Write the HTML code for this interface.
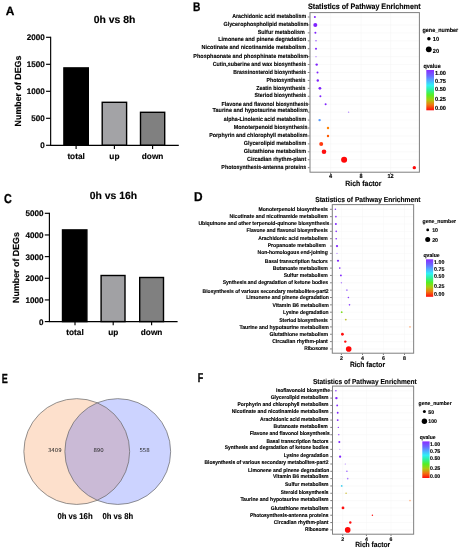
<!DOCTYPE html>
<html lang="en"><head><meta charset="utf-8"><title>DEG figure</title>
<style>
html,body{margin:0;padding:0;background:#fff;}
svg{display:block;font-family:"Liberation Sans",sans-serif;text-rendering:geometricPrecision;}
</style></head><body>
<svg width="460" height="550" viewBox="0 0 460 550">
<defs>
<linearGradient id="rb" x1="0" y1="0" x2="0" y2="1">
<stop offset="0" stop-color="#8a2cff"/>
<stop offset="0.14" stop-color="#6c66ff"/>
<stop offset="0.27" stop-color="#4fb0ff"/>
<stop offset="0.38" stop-color="#2ff0f6"/>
<stop offset="0.50" stop-color="#2ff09a"/>
<stop offset="0.62" stop-color="#55ee22"/>
<stop offset="0.74" stop-color="#aacc10"/>
<stop offset="0.86" stop-color="#ee7a10"/>
<stop offset="1" stop-color="#ff0d0d"/>
</linearGradient>
</defs>
<rect width="460" height="550" fill="#fff"/>
<rect x="63.90" y="67.90" width="24.40" height="77.40" fill="#000" stroke="#000" stroke-width="1.4"/>
<rect x="102.20" y="102.30" width="24.40" height="43.00" fill="#a3a3a6" stroke="#000" stroke-width="1.4"/>
<rect x="140.50" y="112.30" width="24.20" height="33.00" fill="#808080" stroke="#000" stroke-width="1.4"/>
<line x1="50.65" y1="36.80" x2="50.65" y2="145.80" stroke="#000" stroke-width="1.15"/>
<line x1="50.15" y1="145.30" x2="178.80" y2="145.30" stroke="#000" stroke-width="1.15"/>
<line x1="46.05" y1="145.30" x2="50.65" y2="145.30" stroke="#000" stroke-width="1.15"/>
<text x="44.65" y="148.20" font-size="8.1" font-weight="bold" text-anchor="end" fill="#000" stroke="#000" stroke-width="0.15">0</text>
<line x1="46.05" y1="118.30" x2="50.65" y2="118.30" stroke="#000" stroke-width="1.15"/>
<text x="44.65" y="121.20" font-size="8.1" font-weight="bold" text-anchor="end" fill="#000" stroke="#000" stroke-width="0.15">500</text>
<line x1="46.05" y1="91.30" x2="50.65" y2="91.30" stroke="#000" stroke-width="1.15"/>
<text x="44.65" y="94.20" font-size="8.1" font-weight="bold" text-anchor="end" fill="#000" stroke="#000" stroke-width="0.15">1000</text>
<line x1="46.05" y1="64.30" x2="50.65" y2="64.30" stroke="#000" stroke-width="1.15"/>
<text x="44.65" y="67.20" font-size="8.1" font-weight="bold" text-anchor="end" fill="#000" stroke="#000" stroke-width="0.15">1500</text>
<line x1="46.05" y1="37.30" x2="50.65" y2="37.30" stroke="#000" stroke-width="1.15"/>
<text x="44.65" y="40.20" font-size="8.1" font-weight="bold" text-anchor="end" fill="#000" stroke="#000" stroke-width="0.15">2000</text>
<line x1="76.10" y1="145.30" x2="76.10" y2="148.90" stroke="#000" stroke-width="1.15"/>
<text x="76.10" y="158.60" font-size="8.25" font-weight="bold" text-anchor="middle" fill="#000" stroke="#000" stroke-width="0.15">total</text>
<line x1="114.40" y1="145.30" x2="114.40" y2="148.90" stroke="#000" stroke-width="1.15"/>
<text x="114.40" y="158.60" font-size="8.25" font-weight="bold" text-anchor="middle" fill="#000" stroke="#000" stroke-width="0.15">up</text>
<line x1="152.60" y1="145.30" x2="152.60" y2="148.90" stroke="#000" stroke-width="1.15"/>
<text x="152.60" y="158.60" font-size="8.25" font-weight="bold" text-anchor="middle" fill="#000" stroke="#000" stroke-width="0.15">down</text>
<text x="114.60" y="22.60" font-size="10.4" font-weight="bold" text-anchor="middle" fill="#000" stroke="#000" stroke-width="0.15">0h vs 8h</text>
<text transform="translate(21.00,91.00) rotate(-90)" font-size="8.85" font-weight="bold" text-anchor="middle" stroke="#000" stroke-width="0.15">Number of DEGs</text>
<rect x="62.50" y="229.90" width="24.40" height="91.70" fill="#000" stroke="#000" stroke-width="1.4"/>
<rect x="101.10" y="275.50" width="23.90" height="46.10" fill="#a1a1a4" stroke="#000" stroke-width="1.4"/>
<rect x="139.70" y="277.50" width="23.80" height="44.10" fill="#808080" stroke="#000" stroke-width="1.4"/>
<line x1="49.40" y1="212.80" x2="49.40" y2="322.10" stroke="#000" stroke-width="1.15"/>
<line x1="48.90" y1="321.60" x2="177.60" y2="321.60" stroke="#000" stroke-width="1.15"/>
<line x1="44.80" y1="321.60" x2="49.40" y2="321.60" stroke="#000" stroke-width="1.15"/>
<text x="43.40" y="324.50" font-size="8.1" font-weight="bold" text-anchor="end" fill="#000" stroke="#000" stroke-width="0.15">0</text>
<line x1="44.80" y1="299.94" x2="49.40" y2="299.94" stroke="#000" stroke-width="1.15"/>
<text x="43.40" y="302.84" font-size="8.1" font-weight="bold" text-anchor="end" fill="#000" stroke="#000" stroke-width="0.15">1000</text>
<line x1="44.80" y1="278.28" x2="49.40" y2="278.28" stroke="#000" stroke-width="1.15"/>
<text x="43.40" y="281.18" font-size="8.1" font-weight="bold" text-anchor="end" fill="#000" stroke="#000" stroke-width="0.15">2000</text>
<line x1="44.80" y1="256.62" x2="49.40" y2="256.62" stroke="#000" stroke-width="1.15"/>
<text x="43.40" y="259.52" font-size="8.1" font-weight="bold" text-anchor="end" fill="#000" stroke="#000" stroke-width="0.15">3000</text>
<line x1="44.80" y1="234.96" x2="49.40" y2="234.96" stroke="#000" stroke-width="1.15"/>
<text x="43.40" y="237.86" font-size="8.1" font-weight="bold" text-anchor="end" fill="#000" stroke="#000" stroke-width="0.15">4000</text>
<line x1="44.80" y1="213.30" x2="49.40" y2="213.30" stroke="#000" stroke-width="1.15"/>
<text x="43.40" y="216.20" font-size="8.1" font-weight="bold" text-anchor="end" fill="#000" stroke="#000" stroke-width="0.15">5000</text>
<line x1="75.00" y1="321.60" x2="75.00" y2="325.20" stroke="#000" stroke-width="1.15"/>
<text x="75.00" y="334.60" font-size="8.25" font-weight="bold" text-anchor="middle" fill="#000" stroke="#000" stroke-width="0.15">total</text>
<line x1="113.20" y1="321.60" x2="113.20" y2="325.20" stroke="#000" stroke-width="1.15"/>
<text x="113.20" y="334.60" font-size="8.25" font-weight="bold" text-anchor="middle" fill="#000" stroke="#000" stroke-width="0.15">up</text>
<line x1="151.60" y1="321.60" x2="151.60" y2="325.20" stroke="#000" stroke-width="1.15"/>
<text x="151.60" y="334.60" font-size="8.25" font-weight="bold" text-anchor="middle" fill="#000" stroke="#000" stroke-width="0.15">down</text>
<text x="113.50" y="199.20" font-size="10.4" font-weight="bold" text-anchor="middle" fill="#000" stroke="#000" stroke-width="0.15">0h vs 16h</text>
<text transform="translate(19.40,267.50) rotate(-90)" font-size="8.85" font-weight="bold" text-anchor="middle" stroke="#000" stroke-width="0.15">Number of DEGs</text>
<line x1="310.00" y1="17.00" x2="419.40" y2="17.00" stroke="#f5f5f5" stroke-width="0.5"/>
<line x1="310.00" y1="24.93" x2="419.40" y2="24.93" stroke="#f5f5f5" stroke-width="0.5"/>
<line x1="310.00" y1="32.86" x2="419.40" y2="32.86" stroke="#f5f5f5" stroke-width="0.5"/>
<line x1="310.00" y1="40.79" x2="419.40" y2="40.79" stroke="#f5f5f5" stroke-width="0.5"/>
<line x1="310.00" y1="48.72" x2="419.40" y2="48.72" stroke="#f5f5f5" stroke-width="0.5"/>
<line x1="310.00" y1="56.65" x2="419.40" y2="56.65" stroke="#f5f5f5" stroke-width="0.5"/>
<line x1="310.00" y1="64.58" x2="419.40" y2="64.58" stroke="#f5f5f5" stroke-width="0.5"/>
<line x1="310.00" y1="72.51" x2="419.40" y2="72.51" stroke="#f5f5f5" stroke-width="0.5"/>
<line x1="310.00" y1="80.44" x2="419.40" y2="80.44" stroke="#f5f5f5" stroke-width="0.5"/>
<line x1="310.00" y1="88.37" x2="419.40" y2="88.37" stroke="#f5f5f5" stroke-width="0.5"/>
<line x1="310.00" y1="96.30" x2="419.40" y2="96.30" stroke="#f5f5f5" stroke-width="0.5"/>
<line x1="310.00" y1="104.23" x2="419.40" y2="104.23" stroke="#f5f5f5" stroke-width="0.5"/>
<line x1="310.00" y1="112.16" x2="419.40" y2="112.16" stroke="#f5f5f5" stroke-width="0.5"/>
<line x1="310.00" y1="120.09" x2="419.40" y2="120.09" stroke="#f5f5f5" stroke-width="0.5"/>
<line x1="310.00" y1="128.02" x2="419.40" y2="128.02" stroke="#f5f5f5" stroke-width="0.5"/>
<line x1="310.00" y1="135.95" x2="419.40" y2="135.95" stroke="#f5f5f5" stroke-width="0.5"/>
<line x1="310.00" y1="143.88" x2="419.40" y2="143.88" stroke="#f5f5f5" stroke-width="0.5"/>
<line x1="310.00" y1="151.81" x2="419.40" y2="151.81" stroke="#f5f5f5" stroke-width="0.5"/>
<line x1="310.00" y1="159.74" x2="419.40" y2="159.74" stroke="#f5f5f5" stroke-width="0.5"/>
<line x1="310.00" y1="167.67" x2="419.40" y2="167.67" stroke="#f5f5f5" stroke-width="0.5"/>
<line x1="330.60" y1="12.60" x2="330.60" y2="172.20" stroke="#f5f5f5" stroke-width="0.5"/>
<line x1="361.10" y1="12.60" x2="361.10" y2="172.20" stroke="#f5f5f5" stroke-width="0.5"/>
<line x1="390.60" y1="12.60" x2="390.60" y2="172.20" stroke="#f5f5f5" stroke-width="0.5"/>
<rect x="310.00" y="12.60" width="109.40" height="159.60" fill="none" stroke="#7f7f7f" stroke-width="1"/>
<text x="232.19" y="18.44" font-size="5.85" font-weight="bold" text-anchor="start" fill="#000" textLength="74.01" lengthAdjust="spacingAndGlyphs" stroke="#000" stroke-width="0.12">Arachidonic acid metabolism</text>
<line x1="307.80" y1="17.00" x2="309.50" y2="17.00" stroke="#444" stroke-width="0.7"/>
<circle cx="314.90" cy="17.00" r="1.00" fill="#7f22ff" stroke="none" stroke-width="0"/>
<text x="223.49" y="26.37" font-size="5.85" font-weight="bold" text-anchor="start" fill="#000" textLength="84.81" lengthAdjust="spacingAndGlyphs" stroke="#000" stroke-width="0.12">Glycerophospholipid metabolism</text>
<line x1="307.80" y1="24.93" x2="309.50" y2="24.93" stroke="#444" stroke-width="0.7"/>
<circle cx="315.30" cy="24.93" r="2.00" fill="#7f22ff" stroke="none" stroke-width="0"/>
<text x="257.72" y="33.80" font-size="5.85" font-weight="bold" text-anchor="start" fill="#000" textLength="46.98" lengthAdjust="spacingAndGlyphs" stroke="#000" stroke-width="0.12">Sulfur metabolism</text>
<line x1="307.80" y1="32.86" x2="309.50" y2="32.86" stroke="#444" stroke-width="0.7"/>
<circle cx="315.40" cy="32.86" r="1.00" fill="#7f22ff" stroke="none" stroke-width="0"/>
<text x="218.29" y="41.13" font-size="5.85" font-weight="bold" text-anchor="start" fill="#000" textLength="87.91" lengthAdjust="spacingAndGlyphs" stroke="#000" stroke-width="0.12">Limonene and pinene degradation</text>
<line x1="307.80" y1="40.79" x2="309.50" y2="40.79" stroke="#444" stroke-width="0.7"/>
<circle cx="316.00" cy="40.79" r="0.80" fill="#a060ff" stroke="none" stroke-width="0"/>
<text x="201.61" y="49.36" font-size="5.85" font-weight="bold" text-anchor="start" fill="#000" textLength="104.59" lengthAdjust="spacingAndGlyphs" stroke="#000" stroke-width="0.12">Nicotinate and nicotinamide metabolism</text>
<line x1="307.80" y1="48.72" x2="309.50" y2="48.72" stroke="#444" stroke-width="0.7"/>
<circle cx="316.00" cy="48.72" r="1.00" fill="#7f22ff" stroke="none" stroke-width="0"/>
<text x="193.36" y="57.59" font-size="5.85" font-weight="bold" text-anchor="start" fill="#000" textLength="114.74" lengthAdjust="spacingAndGlyphs" stroke="#000" stroke-width="0.12">Phosphaonate and phosphinate metabolism</text>
<line x1="307.80" y1="56.65" x2="309.50" y2="56.65" stroke="#444" stroke-width="0.7"/>
<circle cx="316.00" cy="56.65" r="0.70" fill="#b080ff" stroke="none" stroke-width="0"/>
<text x="212.71" y="65.52" font-size="5.85" font-weight="bold" text-anchor="start" fill="#000" textLength="93.49" lengthAdjust="spacingAndGlyphs" stroke="#000" stroke-width="0.12">Cutin,suberine and wax biosynthesis</text>
<line x1="307.80" y1="64.58" x2="309.50" y2="64.58" stroke="#444" stroke-width="0.7"/>
<circle cx="316.70" cy="64.58" r="1.20" fill="#7f22ff" stroke="none" stroke-width="0"/>
<text x="233.25" y="73.95" font-size="5.85" font-weight="bold" text-anchor="start" fill="#000" textLength="72.95" lengthAdjust="spacingAndGlyphs" stroke="#000" stroke-width="0.12">Brassinosteroid biosynthesis</text>
<line x1="307.80" y1="72.51" x2="309.50" y2="72.51" stroke="#444" stroke-width="0.7"/>
<circle cx="317.50" cy="72.51" r="1.00" fill="#7f22ff" stroke="none" stroke-width="0"/>
<text x="266.49" y="81.88" font-size="5.85" font-weight="bold" text-anchor="start" fill="#000" textLength="39.01" lengthAdjust="spacingAndGlyphs" stroke="#000" stroke-width="0.12">Photosynthesis</text>
<line x1="307.80" y1="80.44" x2="309.50" y2="80.44" stroke="#444" stroke-width="0.7"/>
<circle cx="317.80" cy="80.44" r="1.20" fill="#7f22ff" stroke="none" stroke-width="0"/>
<text x="256.26" y="89.51" font-size="5.85" font-weight="bold" text-anchor="start" fill="#000" textLength="49.24" lengthAdjust="spacingAndGlyphs" stroke="#000" stroke-width="0.12">Zeatin biosynthesis</text>
<line x1="307.80" y1="88.37" x2="309.50" y2="88.37" stroke="#444" stroke-width="0.7"/>
<circle cx="319.90" cy="88.37" r="1.40" fill="#7f22ff" stroke="none" stroke-width="0"/>
<text x="254.54" y="97.34" font-size="5.85" font-weight="bold" text-anchor="start" fill="#000" textLength="51.66" lengthAdjust="spacingAndGlyphs" stroke="#000" stroke-width="0.12">Steriod biosynthesis</text>
<line x1="307.80" y1="96.30" x2="309.50" y2="96.30" stroke="#444" stroke-width="0.7"/>
<circle cx="320.40" cy="96.30" r="1.00" fill="#7f22ff" stroke="none" stroke-width="0"/>
<text x="221.58" y="105.67" font-size="5.85" font-weight="bold" text-anchor="start" fill="#000" textLength="86.52" lengthAdjust="spacingAndGlyphs" stroke="#000" stroke-width="0.12">Flavone and flavonol biosynthesis</text>
<line x1="307.80" y1="104.23" x2="309.50" y2="104.23" stroke="#444" stroke-width="0.7"/>
<circle cx="325.60" cy="104.23" r="1.00" fill="#7f22ff" stroke="none" stroke-width="0"/>
<text x="212.60" y="112.30" font-size="5.85" font-weight="bold" text-anchor="start" fill="#000" textLength="95.20" lengthAdjust="spacingAndGlyphs" stroke="#000" stroke-width="0.12">Taurine and hypotaurine metabolism</text>
<line x1="307.80" y1="112.16" x2="309.50" y2="112.16" stroke="#444" stroke-width="0.7"/>
<circle cx="348.60" cy="112.16" r="0.70" fill="#b080ff" stroke="none" stroke-width="0"/>
<text x="223.71" y="120.53" font-size="5.85" font-weight="bold" text-anchor="start" fill="#000" textLength="82.49" lengthAdjust="spacingAndGlyphs" stroke="#000" stroke-width="0.12">alpha-Linolenic acid metabolism</text>
<line x1="307.80" y1="120.09" x2="309.50" y2="120.09" stroke="#444" stroke-width="0.7"/>
<circle cx="319.60" cy="120.09" r="1.20" fill="#5599ff" stroke="none" stroke-width="0"/>
<text x="233.72" y="128.56" font-size="5.85" font-weight="bold" text-anchor="start" fill="#000" textLength="73.78" lengthAdjust="spacingAndGlyphs" stroke="#000" stroke-width="0.12">Monoterpenoid biosynthesis</text>
<line x1="307.80" y1="128.02" x2="309.50" y2="128.02" stroke="#444" stroke-width="0.7"/>
<circle cx="328.00" cy="128.02" r="1.20" fill="#ff8000" stroke="none" stroke-width="0"/>
<text x="209.16" y="137.39" font-size="5.85" font-weight="bold" text-anchor="start" fill="#000" textLength="98.34" lengthAdjust="spacingAndGlyphs" stroke="#000" stroke-width="0.12">Porphyrin and chlorophyll metabolism</text>
<line x1="307.80" y1="135.95" x2="309.50" y2="135.95" stroke="#444" stroke-width="0.7"/>
<circle cx="328.00" cy="135.95" r="1.20" fill="#ff5a00" stroke="none" stroke-width="0"/>
<text x="243.71" y="145.32" font-size="5.85" font-weight="bold" text-anchor="start" fill="#000" textLength="62.49" lengthAdjust="spacingAndGlyphs" stroke="#000" stroke-width="0.12">Glycerolipid metabolism</text>
<line x1="307.80" y1="143.88" x2="309.50" y2="143.88" stroke="#444" stroke-width="0.7"/>
<circle cx="321.20" cy="143.88" r="2.00" fill="#ff3a10" stroke="none" stroke-width="0"/>
<text x="243.79" y="153.25" font-size="5.85" font-weight="bold" text-anchor="start" fill="#000" textLength="62.41" lengthAdjust="spacingAndGlyphs" stroke="#000" stroke-width="0.12">Glutathione metabolism</text>
<line x1="307.80" y1="151.81" x2="309.50" y2="151.81" stroke="#444" stroke-width="0.7"/>
<circle cx="324.00" cy="151.81" r="2.30" fill="#ff1010" stroke="none" stroke-width="0"/>
<text x="246.99" y="160.68" font-size="5.85" font-weight="bold" text-anchor="start" fill="#000" textLength="59.21" lengthAdjust="spacingAndGlyphs" stroke="#000" stroke-width="0.12">Circadian rhythm-plant</text>
<line x1="307.80" y1="159.74" x2="309.50" y2="159.74" stroke="#444" stroke-width="0.7"/>
<circle cx="344.10" cy="159.74" r="3.00" fill="#ff0808" stroke="none" stroke-width="0"/>
<text x="221.34" y="169.11" font-size="5.85" font-weight="bold" text-anchor="start" fill="#000" textLength="84.86" lengthAdjust="spacingAndGlyphs" stroke="#000" stroke-width="0.12">Photosynthesis-antenna proteins</text>
<line x1="307.80" y1="167.67" x2="309.50" y2="167.67" stroke="#444" stroke-width="0.7"/>
<circle cx="414.30" cy="167.67" r="1.70" fill="#ff0808" stroke="none" stroke-width="0"/>
<text x="329.04" y="178.34" font-size="5.85" font-weight="bold" text-anchor="start" fill="#000" textLength="3.12" lengthAdjust="spacingAndGlyphs" stroke="#000" stroke-width="0.12">4</text>
<line x1="330.60" y1="172.70" x2="330.60" y2="174.00" stroke="#444" stroke-width="0.7"/>
<text x="359.54" y="178.34" font-size="5.85" font-weight="bold" text-anchor="start" fill="#000" textLength="3.12" lengthAdjust="spacingAndGlyphs" stroke="#000" stroke-width="0.12">8</text>
<line x1="361.10" y1="172.70" x2="361.10" y2="174.00" stroke="#444" stroke-width="0.7"/>
<text x="387.48" y="178.34" font-size="5.85" font-weight="bold" text-anchor="start" fill="#000" textLength="6.25" lengthAdjust="spacingAndGlyphs" stroke="#000" stroke-width="0.12">12</text>
<line x1="390.60" y1="172.70" x2="390.60" y2="174.00" stroke="#444" stroke-width="0.7"/>
<text x="308.00" y="8.93" font-size="7.84" font-weight="bold" text-anchor="start" fill="#000" textLength="112.63" lengthAdjust="spacingAndGlyphs" stroke="#000" stroke-width="0.12">Statistics of Pathway Enrichment</text>
<text x="345.35" y="185.50" font-size="7.69" font-weight="bold" text-anchor="start" fill="#000" textLength="36.11" lengthAdjust="spacingAndGlyphs" stroke="#000" stroke-width="0.12">Rich factor</text>
<text x="422.50" y="32.04" font-size="5.85" font-weight="bold" text-anchor="start" fill="#000" textLength="35.71" lengthAdjust="spacingAndGlyphs" stroke="#000" stroke-width="0.12">gene_number</text>
<circle cx="428.90" cy="38.70" r="1.75" fill="#000" stroke="none" stroke-width="0"/>
<text x="432.80" y="40.64" font-size="5.85" font-weight="bold" text-anchor="start" fill="#000" textLength="6.25" lengthAdjust="spacingAndGlyphs" stroke="#000" stroke-width="0.12">10</text>
<circle cx="428.80" cy="49.30" r="2.90" fill="#000" stroke="none" stroke-width="0"/>
<text x="432.80" y="52.74" font-size="5.85" font-weight="bold" text-anchor="start" fill="#000" textLength="6.25" lengthAdjust="spacingAndGlyphs" stroke="#000" stroke-width="0.12">20</text>
<text x="423.50" y="68.14" font-size="5.85" font-weight="bold" text-anchor="start" fill="#000" textLength="17.19" lengthAdjust="spacingAndGlyphs" stroke="#000" stroke-width="0.12">qvalue</text>
<rect x="426.30" y="70.00" width="7.70" height="40.30" fill="url(#rb)" stroke="none" stroke-width="1"/>
<text x="435.00" y="74.74" font-size="5.85" font-weight="bold" text-anchor="start" fill="#000" textLength="11.01" lengthAdjust="spacingAndGlyphs" stroke="#000" stroke-width="0.12">1.00</text>
<text x="435.00" y="82.84" font-size="5.85" font-weight="bold" text-anchor="start" fill="#000" textLength="11.01" lengthAdjust="spacingAndGlyphs" stroke="#000" stroke-width="0.12">0.75</text>
<text x="435.00" y="90.64" font-size="5.85" font-weight="bold" text-anchor="start" fill="#000" textLength="11.01" lengthAdjust="spacingAndGlyphs" stroke="#000" stroke-width="0.12">0.50</text>
<text x="435.00" y="100.64" font-size="5.85" font-weight="bold" text-anchor="start" fill="#000" textLength="11.01" lengthAdjust="spacingAndGlyphs" stroke="#000" stroke-width="0.12">0.25</text>
<text x="435.00" y="110.34" font-size="5.85" font-weight="bold" text-anchor="start" fill="#000" textLength="11.01" lengthAdjust="spacingAndGlyphs" stroke="#000" stroke-width="0.12">0.00</text>
<line x1="332.30" y1="209.30" x2="413.65" y2="209.30" stroke="#f5f5f5" stroke-width="0.5"/>
<line x1="332.30" y1="216.65" x2="413.65" y2="216.65" stroke="#f5f5f5" stroke-width="0.5"/>
<line x1="332.30" y1="224.00" x2="413.65" y2="224.00" stroke="#f5f5f5" stroke-width="0.5"/>
<line x1="332.30" y1="231.35" x2="413.65" y2="231.35" stroke="#f5f5f5" stroke-width="0.5"/>
<line x1="332.30" y1="238.70" x2="413.65" y2="238.70" stroke="#f5f5f5" stroke-width="0.5"/>
<line x1="332.30" y1="246.05" x2="413.65" y2="246.05" stroke="#f5f5f5" stroke-width="0.5"/>
<line x1="332.30" y1="253.40" x2="413.65" y2="253.40" stroke="#f5f5f5" stroke-width="0.5"/>
<line x1="332.30" y1="260.75" x2="413.65" y2="260.75" stroke="#f5f5f5" stroke-width="0.5"/>
<line x1="332.30" y1="268.10" x2="413.65" y2="268.10" stroke="#f5f5f5" stroke-width="0.5"/>
<line x1="332.30" y1="275.45" x2="413.65" y2="275.45" stroke="#f5f5f5" stroke-width="0.5"/>
<line x1="332.30" y1="282.80" x2="413.65" y2="282.80" stroke="#f5f5f5" stroke-width="0.5"/>
<line x1="332.30" y1="290.15" x2="413.65" y2="290.15" stroke="#f5f5f5" stroke-width="0.5"/>
<line x1="332.30" y1="297.50" x2="413.65" y2="297.50" stroke="#f5f5f5" stroke-width="0.5"/>
<line x1="332.30" y1="304.85" x2="413.65" y2="304.85" stroke="#f5f5f5" stroke-width="0.5"/>
<line x1="332.30" y1="312.20" x2="413.65" y2="312.20" stroke="#f5f5f5" stroke-width="0.5"/>
<line x1="332.30" y1="319.55" x2="413.65" y2="319.55" stroke="#f5f5f5" stroke-width="0.5"/>
<line x1="332.30" y1="326.90" x2="413.65" y2="326.90" stroke="#f5f5f5" stroke-width="0.5"/>
<line x1="332.30" y1="334.25" x2="413.65" y2="334.25" stroke="#f5f5f5" stroke-width="0.5"/>
<line x1="332.30" y1="341.60" x2="413.65" y2="341.60" stroke="#f5f5f5" stroke-width="0.5"/>
<line x1="332.30" y1="348.95" x2="413.65" y2="348.95" stroke="#f5f5f5" stroke-width="0.5"/>
<line x1="341.40" y1="204.60" x2="341.40" y2="353.20" stroke="#f5f5f5" stroke-width="0.5"/>
<line x1="362.50" y1="204.60" x2="362.50" y2="353.20" stroke="#f5f5f5" stroke-width="0.5"/>
<line x1="383.40" y1="204.60" x2="383.40" y2="353.20" stroke="#f5f5f5" stroke-width="0.5"/>
<line x1="404.50" y1="204.60" x2="404.50" y2="353.20" stroke="#f5f5f5" stroke-width="0.5"/>
<rect x="332.30" y="204.60" width="81.35" height="148.60" fill="none" stroke="#7f7f7f" stroke-width="1"/>
<text x="258.45" y="210.65" font-size="5.5" font-weight="bold" text-anchor="start" fill="#000" textLength="69.35" lengthAdjust="spacingAndGlyphs" stroke="#000" stroke-width="0.12">Monoterpenoid biosynthesis</text>
<line x1="330.10" y1="209.30" x2="331.80" y2="209.30" stroke="#444" stroke-width="0.7"/>
<circle cx="335.40" cy="209.30" r="0.70" fill="#7f22ff" stroke="none" stroke-width="0"/>
<text x="229.49" y="218.00" font-size="5.5" font-weight="bold" text-anchor="start" fill="#000" textLength="98.31" lengthAdjust="spacingAndGlyphs" stroke="#000" stroke-width="0.12">Nicotinate and nicotinamide metabolism</text>
<line x1="330.10" y1="216.65" x2="331.80" y2="216.65" stroke="#444" stroke-width="0.7"/>
<circle cx="335.90" cy="216.65" r="0.80" fill="#7f22ff" stroke="none" stroke-width="0"/>
<text x="198.38" y="224.95" font-size="5.5" font-weight="bold" text-anchor="start" fill="#000" textLength="131.02" lengthAdjust="spacingAndGlyphs" stroke="#000" stroke-width="0.12">Ubiquinone and other terpenoid-quinone biosynthesis</text>
<line x1="330.10" y1="224.00" x2="331.80" y2="224.00" stroke="#444" stroke-width="0.7"/>
<circle cx="335.90" cy="224.00" r="1.00" fill="#7f22ff" stroke="none" stroke-width="0"/>
<text x="246.47" y="231.90" font-size="5.5" font-weight="bold" text-anchor="start" fill="#000" textLength="81.33" lengthAdjust="spacingAndGlyphs" stroke="#000" stroke-width="0.12">Flavone and flavonol biosynthesis</text>
<line x1="330.10" y1="231.35" x2="331.80" y2="231.35" stroke="#444" stroke-width="0.7"/>
<circle cx="336.20" cy="231.35" r="0.80" fill="#7f22ff" stroke="none" stroke-width="0"/>
<text x="258.23" y="239.75" font-size="5.5" font-weight="bold" text-anchor="start" fill="#000" textLength="69.57" lengthAdjust="spacingAndGlyphs" stroke="#000" stroke-width="0.12">Arachidonic acid metabolism</text>
<line x1="330.10" y1="238.70" x2="331.80" y2="238.70" stroke="#444" stroke-width="0.7"/>
<circle cx="336.20" cy="238.70" r="0.80" fill="#7f22ff" stroke="none" stroke-width="0"/>
<text x="267.69" y="246.70" font-size="5.5" font-weight="bold" text-anchor="start" fill="#000" textLength="58.11" lengthAdjust="spacingAndGlyphs" stroke="#000" stroke-width="0.12">Propanoate metabolism</text>
<line x1="330.10" y1="246.05" x2="331.80" y2="246.05" stroke="#444" stroke-width="0.7"/>
<circle cx="337.00" cy="246.05" r="1.10" fill="#7f22ff" stroke="none" stroke-width="0"/>
<text x="257.51" y="254.45" font-size="5.5" font-weight="bold" text-anchor="start" fill="#000" textLength="70.29" lengthAdjust="spacingAndGlyphs" stroke="#000" stroke-width="0.12">Non-homologous end-joining</text>
<line x1="330.10" y1="253.40" x2="331.80" y2="253.40" stroke="#444" stroke-width="0.7"/>
<circle cx="337.00" cy="253.40" r="0.60" fill="#b080ff" stroke="none" stroke-width="0"/>
<text x="264.87" y="262.60" font-size="5.5" font-weight="bold" text-anchor="start" fill="#000" textLength="62.93" lengthAdjust="spacingAndGlyphs" stroke="#000" stroke-width="0.12">Basal transcription factors</text>
<line x1="330.10" y1="260.75" x2="331.80" y2="260.75" stroke="#444" stroke-width="0.7"/>
<circle cx="338.00" cy="260.75" r="1.10" fill="#7f22ff" stroke="none" stroke-width="0"/>
<text x="272.68" y="269.85" font-size="5.5" font-weight="bold" text-anchor="start" fill="#000" textLength="55.12" lengthAdjust="spacingAndGlyphs" stroke="#000" stroke-width="0.12">Butanoate metabolism</text>
<line x1="330.10" y1="268.10" x2="331.80" y2="268.10" stroke="#444" stroke-width="0.7"/>
<circle cx="339.80" cy="268.10" r="0.80" fill="#7f22ff" stroke="none" stroke-width="0"/>
<text x="283.65" y="276.80" font-size="5.5" font-weight="bold" text-anchor="start" fill="#000" textLength="44.15" lengthAdjust="spacingAndGlyphs" stroke="#000" stroke-width="0.12">Sulfur metabolism</text>
<line x1="330.10" y1="275.45" x2="331.80" y2="275.45" stroke="#444" stroke-width="0.7"/>
<circle cx="340.90" cy="275.45" r="0.90" fill="#7f22ff" stroke="none" stroke-width="0"/>
<text x="222.74" y="284.45" font-size="5.5" font-weight="bold" text-anchor="start" fill="#000" textLength="105.36" lengthAdjust="spacingAndGlyphs" stroke="#000" stroke-width="0.12">Synthesis and degradation of ketone bodies</text>
<line x1="330.10" y1="282.80" x2="331.80" y2="282.80" stroke="#444" stroke-width="0.7"/>
<circle cx="341.40" cy="282.80" r="0.70" fill="#b080ff" stroke="none" stroke-width="0"/>
<text x="202.61" y="292.50" font-size="5.5" font-weight="bold" text-anchor="start" fill="#000" textLength="125.99" lengthAdjust="spacingAndGlyphs" stroke="#000" stroke-width="0.12">Biosynthesis of various secondary metabolites-part2</text>
<line x1="330.10" y1="290.15" x2="331.80" y2="290.15" stroke="#444" stroke-width="0.7"/>
<circle cx="346.90" cy="290.15" r="0.80" fill="#a070ff" stroke="none" stroke-width="0"/>
<text x="246.27" y="299.15" font-size="5.5" font-weight="bold" text-anchor="start" fill="#000" textLength="82.63" lengthAdjust="spacingAndGlyphs" stroke="#000" stroke-width="0.12">Limonene and pinene degradation</text>
<line x1="330.10" y1="297.50" x2="331.80" y2="297.50" stroke="#444" stroke-width="0.7"/>
<circle cx="348.40" cy="297.50" r="0.80" fill="#8a40ff" stroke="none" stroke-width="0"/>
<text x="272.56" y="307.00" font-size="5.5" font-weight="bold" text-anchor="start" fill="#000" textLength="56.34" lengthAdjust="spacingAndGlyphs" stroke="#000" stroke-width="0.12">Vitamin B6 metabolism</text>
<line x1="330.10" y1="304.85" x2="331.80" y2="304.85" stroke="#444" stroke-width="0.7"/>
<circle cx="349.50" cy="304.85" r="0.80" fill="#8a40ff" stroke="none" stroke-width="0"/>
<text x="283.03" y="313.85" font-size="5.5" font-weight="bold" text-anchor="start" fill="#000" textLength="45.57" lengthAdjust="spacingAndGlyphs" stroke="#000" stroke-width="0.12">Lysine degradation</text>
<line x1="330.10" y1="312.20" x2="331.80" y2="312.20" stroke="#444" stroke-width="0.7"/>
<circle cx="341.70" cy="312.20" r="0.90" fill="#7fdf20" stroke="none" stroke-width="0"/>
<text x="279.24" y="321.70" font-size="5.5" font-weight="bold" text-anchor="start" fill="#000" textLength="48.56" lengthAdjust="spacingAndGlyphs" stroke="#000" stroke-width="0.12">Steriod biosynthesis</text>
<line x1="330.10" y1="319.55" x2="331.80" y2="319.55" stroke="#444" stroke-width="0.7"/>
<circle cx="345.80" cy="319.55" r="0.90" fill="#bfbf30" stroke="none" stroke-width="0"/>
<text x="239.42" y="328.65" font-size="5.5" font-weight="bold" text-anchor="start" fill="#000" textLength="89.48" lengthAdjust="spacingAndGlyphs" stroke="#000" stroke-width="0.12">Taurine and hypotaurine metabolism</text>
<line x1="330.10" y1="326.90" x2="331.80" y2="326.90" stroke="#444" stroke-width="0.7"/>
<circle cx="410.00" cy="326.90" r="0.80" fill="#ffb080" stroke="none" stroke-width="0"/>
<text x="269.44" y="336.00" font-size="5.5" font-weight="bold" text-anchor="start" fill="#000" textLength="58.66" lengthAdjust="spacingAndGlyphs" stroke="#000" stroke-width="0.12">Glutathione metabolism</text>
<line x1="330.10" y1="334.25" x2="331.80" y2="334.25" stroke="#444" stroke-width="0.7"/>
<circle cx="342.40" cy="334.25" r="1.40" fill="#ff1010" stroke="none" stroke-width="0"/>
<text x="272.15" y="342.95" font-size="5.5" font-weight="bold" text-anchor="start" fill="#000" textLength="55.65" lengthAdjust="spacingAndGlyphs" stroke="#000" stroke-width="0.12">Circadian rhythm-plant</text>
<line x1="330.10" y1="341.60" x2="331.80" y2="341.60" stroke="#444" stroke-width="0.7"/>
<circle cx="345.30" cy="341.60" r="1.20" fill="#ff1010" stroke="none" stroke-width="0"/>
<text x="304.15" y="350.30" font-size="5.5" font-weight="bold" text-anchor="start" fill="#000" textLength="23.95" lengthAdjust="spacingAndGlyphs" stroke="#000" stroke-width="0.12">Ribosome</text>
<line x1="330.10" y1="348.95" x2="331.80" y2="348.95" stroke="#444" stroke-width="0.7"/>
<circle cx="348.70" cy="348.95" r="2.80" fill="#ff0808" stroke="none" stroke-width="0"/>
<text x="339.93" y="360.35" font-size="5.5" font-weight="bold" text-anchor="start" fill="#000" textLength="2.94" lengthAdjust="spacingAndGlyphs" stroke="#000" stroke-width="0.12">2</text>
<line x1="341.40" y1="353.70" x2="341.40" y2="355.00" stroke="#444" stroke-width="0.7"/>
<text x="361.03" y="360.35" font-size="5.5" font-weight="bold" text-anchor="start" fill="#000" textLength="2.94" lengthAdjust="spacingAndGlyphs" stroke="#000" stroke-width="0.12">4</text>
<line x1="362.50" y1="353.70" x2="362.50" y2="355.00" stroke="#444" stroke-width="0.7"/>
<text x="381.93" y="360.35" font-size="5.5" font-weight="bold" text-anchor="start" fill="#000" textLength="2.94" lengthAdjust="spacingAndGlyphs" stroke="#000" stroke-width="0.12">6</text>
<line x1="383.40" y1="353.70" x2="383.40" y2="355.00" stroke="#444" stroke-width="0.7"/>
<text x="403.03" y="360.35" font-size="5.5" font-weight="bold" text-anchor="start" fill="#000" textLength="2.94" lengthAdjust="spacingAndGlyphs" stroke="#000" stroke-width="0.12">8</text>
<line x1="404.50" y1="353.70" x2="404.50" y2="355.00" stroke="#444" stroke-width="0.7"/>
<text x="315.20" y="201.51" font-size="7.33" font-weight="bold" text-anchor="start" fill="#000" textLength="105.39" lengthAdjust="spacingAndGlyphs" stroke="#000" stroke-width="0.12">Statistics of Pathway Enrichment</text>
<text x="349.89" y="366.65" font-size="7.5" font-weight="bold" text-anchor="start" fill="#000" textLength="35.22" lengthAdjust="spacingAndGlyphs" stroke="#000" stroke-width="0.12">Rich factor</text>
<text x="422.50" y="223.15" font-size="5.5" font-weight="bold" text-anchor="start" fill="#000" textLength="33.56" lengthAdjust="spacingAndGlyphs" stroke="#000" stroke-width="0.12">gene_number</text>
<circle cx="427.70" cy="229.90" r="1.40" fill="#000" stroke="none" stroke-width="0"/>
<text x="432.20" y="231.55" font-size="5.5" font-weight="bold" text-anchor="start" fill="#000" textLength="5.87" lengthAdjust="spacingAndGlyphs" stroke="#000" stroke-width="0.12">10</text>
<circle cx="427.70" cy="239.60" r="2.50" fill="#000" stroke="none" stroke-width="0"/>
<text x="432.20" y="242.35" font-size="5.5" font-weight="bold" text-anchor="start" fill="#000" textLength="5.87" lengthAdjust="spacingAndGlyphs" stroke="#000" stroke-width="0.12">20</text>
<text x="423.50" y="256.95" font-size="5.5" font-weight="bold" text-anchor="start" fill="#000" textLength="16.15" lengthAdjust="spacingAndGlyphs" stroke="#000" stroke-width="0.12">qvalue</text>
<rect x="426.00" y="259.30" width="7.20" height="37.50" fill="url(#rb)" stroke="none" stroke-width="1"/>
<text x="434.00" y="263.65" font-size="5.5" font-weight="bold" text-anchor="start" fill="#000" textLength="10.35" lengthAdjust="spacingAndGlyphs" stroke="#000" stroke-width="0.12">1.00</text>
<text x="434.00" y="270.95" font-size="5.5" font-weight="bold" text-anchor="start" fill="#000" textLength="10.35" lengthAdjust="spacingAndGlyphs" stroke="#000" stroke-width="0.12">0.75</text>
<text x="434.00" y="278.35" font-size="5.5" font-weight="bold" text-anchor="start" fill="#000" textLength="10.35" lengthAdjust="spacingAndGlyphs" stroke="#000" stroke-width="0.12">0.50</text>
<text x="434.00" y="287.55" font-size="5.5" font-weight="bold" text-anchor="start" fill="#000" textLength="10.35" lengthAdjust="spacingAndGlyphs" stroke="#000" stroke-width="0.12">0.25</text>
<text x="434.00" y="296.35" font-size="5.5" font-weight="bold" text-anchor="start" fill="#000" textLength="10.35" lengthAdjust="spacingAndGlyphs" stroke="#000" stroke-width="0.12">0.00</text>
<line x1="332.50" y1="390.80" x2="413.65" y2="390.80" stroke="#f5f5f5" stroke-width="0.5"/>
<line x1="332.50" y1="398.12" x2="413.65" y2="398.12" stroke="#f5f5f5" stroke-width="0.5"/>
<line x1="332.50" y1="405.44" x2="413.65" y2="405.44" stroke="#f5f5f5" stroke-width="0.5"/>
<line x1="332.50" y1="412.76" x2="413.65" y2="412.76" stroke="#f5f5f5" stroke-width="0.5"/>
<line x1="332.50" y1="420.08" x2="413.65" y2="420.08" stroke="#f5f5f5" stroke-width="0.5"/>
<line x1="332.50" y1="427.40" x2="413.65" y2="427.40" stroke="#f5f5f5" stroke-width="0.5"/>
<line x1="332.50" y1="434.72" x2="413.65" y2="434.72" stroke="#f5f5f5" stroke-width="0.5"/>
<line x1="332.50" y1="442.04" x2="413.65" y2="442.04" stroke="#f5f5f5" stroke-width="0.5"/>
<line x1="332.50" y1="449.36" x2="413.65" y2="449.36" stroke="#f5f5f5" stroke-width="0.5"/>
<line x1="332.50" y1="456.68" x2="413.65" y2="456.68" stroke="#f5f5f5" stroke-width="0.5"/>
<line x1="332.50" y1="464.00" x2="413.65" y2="464.00" stroke="#f5f5f5" stroke-width="0.5"/>
<line x1="332.50" y1="471.32" x2="413.65" y2="471.32" stroke="#f5f5f5" stroke-width="0.5"/>
<line x1="332.50" y1="478.64" x2="413.65" y2="478.64" stroke="#f5f5f5" stroke-width="0.5"/>
<line x1="332.50" y1="485.96" x2="413.65" y2="485.96" stroke="#f5f5f5" stroke-width="0.5"/>
<line x1="332.50" y1="493.28" x2="413.65" y2="493.28" stroke="#f5f5f5" stroke-width="0.5"/>
<line x1="332.50" y1="500.60" x2="413.65" y2="500.60" stroke="#f5f5f5" stroke-width="0.5"/>
<line x1="332.50" y1="507.92" x2="413.65" y2="507.92" stroke="#f5f5f5" stroke-width="0.5"/>
<line x1="332.50" y1="515.24" x2="413.65" y2="515.24" stroke="#f5f5f5" stroke-width="0.5"/>
<line x1="332.50" y1="522.56" x2="413.65" y2="522.56" stroke="#f5f5f5" stroke-width="0.5"/>
<line x1="332.50" y1="529.88" x2="413.65" y2="529.88" stroke="#f5f5f5" stroke-width="0.5"/>
<line x1="342.70" y1="386.10" x2="342.70" y2="534.20" stroke="#f5f5f5" stroke-width="0.5"/>
<line x1="366.40" y1="386.10" x2="366.40" y2="534.20" stroke="#f5f5f5" stroke-width="0.5"/>
<line x1="391.00" y1="386.10" x2="391.00" y2="534.20" stroke="#f5f5f5" stroke-width="0.5"/>
<rect x="332.50" y="386.10" width="81.15" height="148.10" fill="none" stroke="#7f7f7f" stroke-width="1"/>
<text x="276.10" y="391.83" font-size="5.42" font-weight="bold" text-anchor="start" fill="#000" textLength="54.00" lengthAdjust="spacingAndGlyphs" stroke="#000" stroke-width="0.12">Isoflavonoid biosynthe</text>
<line x1="330.30" y1="390.80" x2="332.00" y2="390.80" stroke="#444" stroke-width="0.7"/>
<circle cx="335.90" cy="390.80" r="0.70" fill="#7f22ff" stroke="none" stroke-width="0"/>
<text x="270.67" y="399.25" font-size="5.42" font-weight="bold" text-anchor="start" fill="#000" textLength="57.83" lengthAdjust="spacingAndGlyphs" stroke="#000" stroke-width="0.12">Glycerolipid metabolism</text>
<line x1="330.30" y1="398.12" x2="332.00" y2="398.12" stroke="#444" stroke-width="0.7"/>
<circle cx="336.40" cy="398.12" r="1.20" fill="#7f22ff" stroke="none" stroke-width="0"/>
<text x="237.50" y="406.17" font-size="5.42" font-weight="bold" text-anchor="start" fill="#000" textLength="91.00" lengthAdjust="spacingAndGlyphs" stroke="#000" stroke-width="0.12">Porphyrin and chlorophyll metabolism</text>
<line x1="330.30" y1="405.44" x2="332.00" y2="405.44" stroke="#444" stroke-width="0.7"/>
<circle cx="337.20" cy="405.44" r="0.90" fill="#7f22ff" stroke="none" stroke-width="0"/>
<text x="231.72" y="413.09" font-size="5.42" font-weight="bold" text-anchor="start" fill="#000" textLength="96.78" lengthAdjust="spacingAndGlyphs" stroke="#000" stroke-width="0.12">Nicotinate and nicotinamide metabolism</text>
<line x1="330.30" y1="412.76" x2="332.00" y2="412.76" stroke="#444" stroke-width="0.7"/>
<circle cx="337.70" cy="412.76" r="0.90" fill="#7f22ff" stroke="none" stroke-width="0"/>
<text x="260.01" y="421.11" font-size="5.42" font-weight="bold" text-anchor="start" fill="#000" textLength="68.49" lengthAdjust="spacingAndGlyphs" stroke="#000" stroke-width="0.12">Arachidonic acid metabolism</text>
<line x1="330.30" y1="420.08" x2="332.00" y2="420.08" stroke="#444" stroke-width="0.7"/>
<circle cx="337.70" cy="420.08" r="0.90" fill="#7f22ff" stroke="none" stroke-width="0"/>
<text x="273.54" y="428.13" font-size="5.42" font-weight="bold" text-anchor="start" fill="#000" textLength="54.26" lengthAdjust="spacingAndGlyphs" stroke="#000" stroke-width="0.12">Butanoate metabolism</text>
<line x1="330.30" y1="427.40" x2="332.00" y2="427.40" stroke="#444" stroke-width="0.7"/>
<circle cx="338.30" cy="427.40" r="0.60" fill="#7f22ff" stroke="none" stroke-width="0"/>
<text x="249.64" y="435.35" font-size="5.42" font-weight="bold" text-anchor="start" fill="#000" textLength="80.06" lengthAdjust="spacingAndGlyphs" stroke="#000" stroke-width="0.12">Flavone and flavonol biosynthesis</text>
<line x1="330.30" y1="434.72" x2="332.00" y2="434.72" stroke="#444" stroke-width="0.7"/>
<circle cx="338.80" cy="434.72" r="0.60" fill="#7f22ff" stroke="none" stroke-width="0"/>
<text x="266.55" y="442.87" font-size="5.42" font-weight="bold" text-anchor="start" fill="#000" textLength="61.95" lengthAdjust="spacingAndGlyphs" stroke="#000" stroke-width="0.12">Basal transcription factors</text>
<line x1="330.30" y1="442.04" x2="332.00" y2="442.04" stroke="#444" stroke-width="0.7"/>
<circle cx="339.30" cy="442.04" r="1.00" fill="#7f22ff" stroke="none" stroke-width="0"/>
<text x="224.78" y="449.39" font-size="5.42" font-weight="bold" text-anchor="start" fill="#000" textLength="103.72" lengthAdjust="spacingAndGlyphs" stroke="#000" stroke-width="0.12">Synthesis and degradation of ketone bodies</text>
<line x1="330.30" y1="449.36" x2="332.00" y2="449.36" stroke="#444" stroke-width="0.7"/>
<circle cx="339.80" cy="449.36" r="0.50" fill="#b080ff" stroke="none" stroke-width="0"/>
<text x="283.64" y="456.71" font-size="5.42" font-weight="bold" text-anchor="start" fill="#000" textLength="44.86" lengthAdjust="spacingAndGlyphs" stroke="#000" stroke-width="0.12">Lysine degradation</text>
<line x1="330.30" y1="456.68" x2="332.00" y2="456.68" stroke="#444" stroke-width="0.7"/>
<circle cx="340.10" cy="456.68" r="1.10" fill="#7f22ff" stroke="none" stroke-width="0"/>
<text x="204.47" y="464.33" font-size="5.42" font-weight="bold" text-anchor="start" fill="#000" textLength="124.03" lengthAdjust="spacingAndGlyphs" stroke="#000" stroke-width="0.12">Biosynthesis of various secondary metabolites-part2</text>
<line x1="330.30" y1="464.00" x2="332.00" y2="464.00" stroke="#444" stroke-width="0.7"/>
<circle cx="345.30" cy="464.00" r="0.60" fill="#b080ff" stroke="none" stroke-width="0"/>
<text x="248.06" y="472.15" font-size="5.42" font-weight="bold" text-anchor="start" fill="#000" textLength="81.34" lengthAdjust="spacingAndGlyphs" stroke="#000" stroke-width="0.12">Limonene and pinene degradation</text>
<line x1="330.30" y1="471.32" x2="332.00" y2="471.32" stroke="#444" stroke-width="0.7"/>
<circle cx="346.90" cy="471.32" r="0.80" fill="#9a60ff" stroke="none" stroke-width="0"/>
<text x="273.04" y="477.67" font-size="5.42" font-weight="bold" text-anchor="start" fill="#000" textLength="55.46" lengthAdjust="spacingAndGlyphs" stroke="#000" stroke-width="0.12">Vitamin B6 metabolism</text>
<line x1="330.30" y1="478.64" x2="332.00" y2="478.64" stroke="#444" stroke-width="0.7"/>
<circle cx="347.70" cy="478.64" r="0.80" fill="#a878ff" stroke="none" stroke-width="0"/>
<text x="285.03" y="485.99" font-size="5.42" font-weight="bold" text-anchor="start" fill="#000" textLength="43.47" lengthAdjust="spacingAndGlyphs" stroke="#000" stroke-width="0.12">Sulfur metabolism</text>
<line x1="330.30" y1="485.96" x2="332.00" y2="485.96" stroke="#444" stroke-width="0.7"/>
<circle cx="341.70" cy="485.96" r="0.90" fill="#40d0f0" stroke="none" stroke-width="0"/>
<text x="280.69" y="493.91" font-size="5.42" font-weight="bold" text-anchor="start" fill="#000" textLength="47.81" lengthAdjust="spacingAndGlyphs" stroke="#000" stroke-width="0.12">Steroid biosynthesis</text>
<line x1="330.30" y1="493.28" x2="332.00" y2="493.28" stroke="#444" stroke-width="0.7"/>
<circle cx="346.10" cy="493.28" r="0.80" fill="#d0c040" stroke="none" stroke-width="0"/>
<text x="240.41" y="501.13" font-size="5.42" font-weight="bold" text-anchor="start" fill="#000" textLength="88.09" lengthAdjust="spacingAndGlyphs" stroke="#000" stroke-width="0.12">Taurine and hypotaurine metabolism</text>
<line x1="330.30" y1="500.60" x2="332.00" y2="500.60" stroke="#444" stroke-width="0.7"/>
<circle cx="410.00" cy="500.60" r="0.80" fill="#ffb080" stroke="none" stroke-width="0"/>
<text x="270.75" y="509.65" font-size="5.42" font-weight="bold" text-anchor="start" fill="#000" textLength="57.75" lengthAdjust="spacingAndGlyphs" stroke="#000" stroke-width="0.12">Glutathione metabolism</text>
<line x1="330.30" y1="507.92" x2="332.00" y2="507.92" stroke="#444" stroke-width="0.7"/>
<circle cx="343.00" cy="507.92" r="1.40" fill="#ff1010" stroke="none" stroke-width="0"/>
<text x="249.98" y="516.57" font-size="5.42" font-weight="bold" text-anchor="start" fill="#000" textLength="78.52" lengthAdjust="spacingAndGlyphs" stroke="#000" stroke-width="0.12">Photosynthesis-antenna proteins</text>
<line x1="330.30" y1="515.24" x2="332.00" y2="515.24" stroke="#444" stroke-width="0.7"/>
<circle cx="372.40" cy="515.24" r="0.70" fill="#ff1010" stroke="none" stroke-width="0"/>
<text x="273.71" y="523.89" font-size="5.42" font-weight="bold" text-anchor="start" fill="#000" textLength="54.79" lengthAdjust="spacingAndGlyphs" stroke="#000" stroke-width="0.12">Circadian rhythm-plant</text>
<line x1="330.30" y1="522.56" x2="332.00" y2="522.56" stroke="#444" stroke-width="0.7"/>
<circle cx="350.30" cy="522.56" r="1.20" fill="#ff1010" stroke="none" stroke-width="0"/>
<text x="304.92" y="531.21" font-size="5.42" font-weight="bold" text-anchor="start" fill="#000" textLength="23.58" lengthAdjust="spacingAndGlyphs" stroke="#000" stroke-width="0.12">Ribosome</text>
<line x1="330.30" y1="529.88" x2="332.00" y2="529.88" stroke="#444" stroke-width="0.7"/>
<circle cx="347.70" cy="529.88" r="2.80" fill="#ff0808" stroke="none" stroke-width="0"/>
<text x="341.26" y="540.53" font-size="5.42" font-weight="bold" text-anchor="start" fill="#000" textLength="2.89" lengthAdjust="spacingAndGlyphs" stroke="#000" stroke-width="0.12">2</text>
<line x1="342.70" y1="534.70" x2="342.70" y2="536.00" stroke="#444" stroke-width="0.7"/>
<text x="364.96" y="540.53" font-size="5.42" font-weight="bold" text-anchor="start" fill="#000" textLength="2.89" lengthAdjust="spacingAndGlyphs" stroke="#000" stroke-width="0.12">4</text>
<line x1="366.40" y1="534.70" x2="366.40" y2="536.00" stroke="#444" stroke-width="0.7"/>
<text x="389.56" y="540.53" font-size="5.42" font-weight="bold" text-anchor="start" fill="#000" textLength="2.89" lengthAdjust="spacingAndGlyphs" stroke="#000" stroke-width="0.12">6</text>
<line x1="391.00" y1="534.70" x2="391.00" y2="536.00" stroke="#444" stroke-width="0.7"/>
<text x="312.90" y="383.58" font-size="7.22" font-weight="bold" text-anchor="start" fill="#000" textLength="103.76" lengthAdjust="spacingAndGlyphs" stroke="#000" stroke-width="0.12">Statistics of Pathway Enrichment</text>
<text x="355.20" y="546.64" font-size="7.46" font-weight="bold" text-anchor="start" fill="#000" textLength="35.00" lengthAdjust="spacingAndGlyphs" stroke="#000" stroke-width="0.12">Rich factor</text>
<text x="418.60" y="405.23" font-size="5.42" font-weight="bold" text-anchor="start" fill="#000" textLength="33.04" lengthAdjust="spacingAndGlyphs" stroke="#000" stroke-width="0.12">gene_number</text>
<circle cx="424.40" cy="411.60" r="1.50" fill="#000" stroke="none" stroke-width="0"/>
<text x="428.30" y="413.93" font-size="5.42" font-weight="bold" text-anchor="start" fill="#000" textLength="5.78" lengthAdjust="spacingAndGlyphs" stroke="#000" stroke-width="0.12">50</text>
<circle cx="424.40" cy="421.30" r="2.70" fill="#000" stroke="none" stroke-width="0"/>
<text x="428.30" y="423.03" font-size="5.42" font-weight="bold" text-anchor="start" fill="#000" textLength="8.67" lengthAdjust="spacingAndGlyphs" stroke="#000" stroke-width="0.12">100</text>
<text x="419.70" y="438.63" font-size="5.42" font-weight="bold" text-anchor="start" fill="#000" textLength="15.90" lengthAdjust="spacingAndGlyphs" stroke="#000" stroke-width="0.12">qvalue</text>
<rect x="422.30" y="441.40" width="7.30" height="36.60" fill="url(#rb)" stroke="none" stroke-width="1"/>
<text x="430.10" y="445.53" font-size="5.42" font-weight="bold" text-anchor="start" fill="#000" textLength="10.19" lengthAdjust="spacingAndGlyphs" stroke="#000" stroke-width="0.12">1.00</text>
<text x="430.10" y="453.03" font-size="5.42" font-weight="bold" text-anchor="start" fill="#000" textLength="10.19" lengthAdjust="spacingAndGlyphs" stroke="#000" stroke-width="0.12">0.75</text>
<text x="430.10" y="460.33" font-size="5.42" font-weight="bold" text-anchor="start" fill="#000" textLength="10.19" lengthAdjust="spacingAndGlyphs" stroke="#000" stroke-width="0.12">0.50</text>
<text x="430.10" y="469.53" font-size="5.42" font-weight="bold" text-anchor="start" fill="#000" textLength="10.19" lengthAdjust="spacingAndGlyphs" stroke="#000" stroke-width="0.12">0.25</text>
<text x="430.10" y="478.03" font-size="5.42" font-weight="bold" text-anchor="start" fill="#000" textLength="10.19" lengthAdjust="spacingAndGlyphs" stroke="#000" stroke-width="0.12">0.00</text>
<text x="5.70" y="14.70" font-size="11.9" font-weight="bold" text-anchor="start" fill="#000" stroke="#000" stroke-width="0.3">A</text>
<text x="193.00" y="10.49" font-size="12.54" font-weight="bold" text-anchor="start" fill="#000" textLength="7.41" lengthAdjust="spacingAndGlyphs" stroke="#000" stroke-width="0.3">B</text>
<text x="4.10" y="203.03" font-size="12.92" font-weight="bold" text-anchor="start" fill="#000" textLength="7.77" lengthAdjust="spacingAndGlyphs" stroke="#000" stroke-width="0.3">C</text>
<text x="194.00" y="201.38" font-size="12.92" font-weight="bold" text-anchor="start" fill="#000" textLength="8.57" lengthAdjust="spacingAndGlyphs" stroke="#000" stroke-width="0.3">D</text>
<text x="1.70" y="383.33" font-size="13.11" font-weight="bold" text-anchor="start" fill="#000" textLength="6.06" lengthAdjust="spacingAndGlyphs" stroke="#000" stroke-width="0.3">E</text>
<text x="197.80" y="381.68" font-size="12.92" font-weight="bold" text-anchor="start" fill="#000" textLength="5.49" lengthAdjust="spacingAndGlyphs" stroke="#000" stroke-width="0.3">F</text>
<circle cx="76.75" cy="451.55" r="52.9" fill="rgb(245,100,0)" fill-opacity="0.2"/>
<circle cx="117.75" cy="451.55" r="52.9" fill="rgb(0,35,255)" fill-opacity="0.2"/>
<circle cx="76.75" cy="451.55" r="52.9" fill="none" stroke="#666" stroke-width="0.7"/>
<circle cx="117.75" cy="451.55" r="52.9" fill="none" stroke="#666" stroke-width="0.7"/>
<text x="54.80" y="452.00" font-size="5.4" font-weight="normal" text-anchor="middle" fill="#222" font-family="'DejaVu Sans',sans-serif">3409</text>
<text x="98.60" y="452.00" font-size="5.4" font-weight="normal" text-anchor="middle" fill="#222" font-family="'DejaVu Sans',sans-serif">890</text>
<text x="144.60" y="452.00" font-size="5.4" font-weight="normal" text-anchor="middle" fill="#222" font-family="'DejaVu Sans',sans-serif">558</text>
<text x="57.40" y="518.51" font-size="8.55" font-weight="bold" text-anchor="start" fill="#000" textLength="35.27" lengthAdjust="spacingAndGlyphs" stroke="#000" stroke-width="0.12">0h vs 16h</text>
<text x="102.50" y="518.51" font-size="8.55" font-weight="bold" text-anchor="start" fill="#000" textLength="30.71" lengthAdjust="spacingAndGlyphs" stroke="#000" stroke-width="0.12">0h vs 8h</text>
</svg>
</body></html>
